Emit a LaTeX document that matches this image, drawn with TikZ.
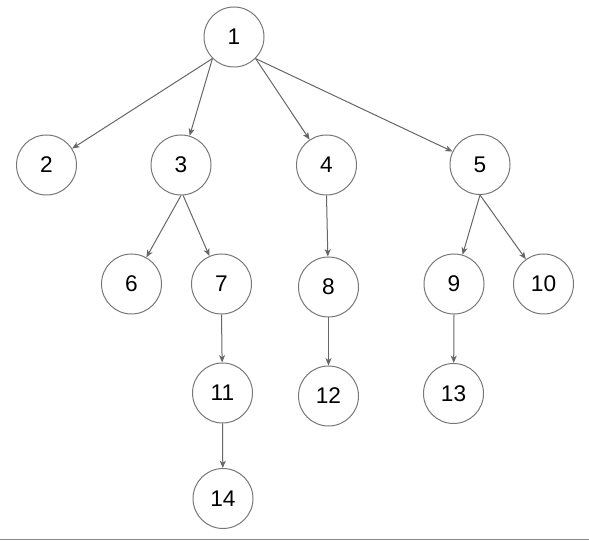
\documentclass[tikz,border=0pt]{standalone}
\usepackage{fontspec}
\setmainfont{Liberation Sans}
\usepackage{tikz}
\usetikzlibrary{arrows.meta,positioning}
\definecolor{edgegray}{HTML}{666666}
\definecolor{circgray}{HTML}{777777}
\definecolor{rulegray}{HTML}{8A8A8A}

\begin{document}
\begin{tikzpicture}[x=0.75pt, y=-0.75pt,
    vert/.style={circle, draw=circgray, line width=0.75pt, minimum size=45pt, inner sep=0pt,
      font=\fontsize{17}{20}\selectfont},
    edge/.style={draw=edgegray, line width=0.75pt, -{Stealth[length=5.5pt,width=4.5pt,inset=1.5pt]}}]
      \useasboundingbox (0,0) rectangle (589,541);

      % Define nodes
      \node[vert] (1) at (234,37) {1};
      \node[vert] (2) at (46.5,165) {2};
      \node[vert] (3) at (181,165) {3};
      \node[vert] (4) at (326.5,165) {4};
      \node[vert] (5) at (480,164.5) {5};

      \node[vert] (6) at (131.5,284) {6};
      \node[vert] (7) at (221.5,284) {7};
      \node[vert] (8) at (328.5,287) {8};
      \node[vert] (9) at (454,284) {9};
      \node[vert] (10) at (543.5,284) {10};

      \node[vert] (11) at (222.5,393) {11};
      \node[vert] (12) at (328.5,396) {12};
      \node[vert] (13) at (453.5,393.5) {13};
      \node[vert] (14) at (223,498.5) {14};

      % Draw edges
      \draw[edge] (1.-135) -- (2);
      \draw[edge] (1.-135) -- (3);
      \draw[edge] (1.-45) -- (4);
      \draw[edge] (1.-45) -- (5);
      \draw[edge] (3.south) -- (6);
      \draw[edge] (3.-86) -- (7);
      \draw[edge] (4.south) -- (8);
      \draw[edge] (5.south) -- (9);
      \draw[edge] (5.south) -- (10);
      \draw[edge] (7.south) -- (11);
      \draw[edge] (8.south) -- (12);
      \draw[edge] (9.south) -- (13);
      \draw[edge] (11.south) -- (14);

      % bottom rule
      \coordinate (rl) at (0,539.5);
      \coordinate (rr) at (589,539.5);
      \draw[rulegray, line width=0.9pt] (rl) -- (rr);
    \end{tikzpicture}
\end{document}
